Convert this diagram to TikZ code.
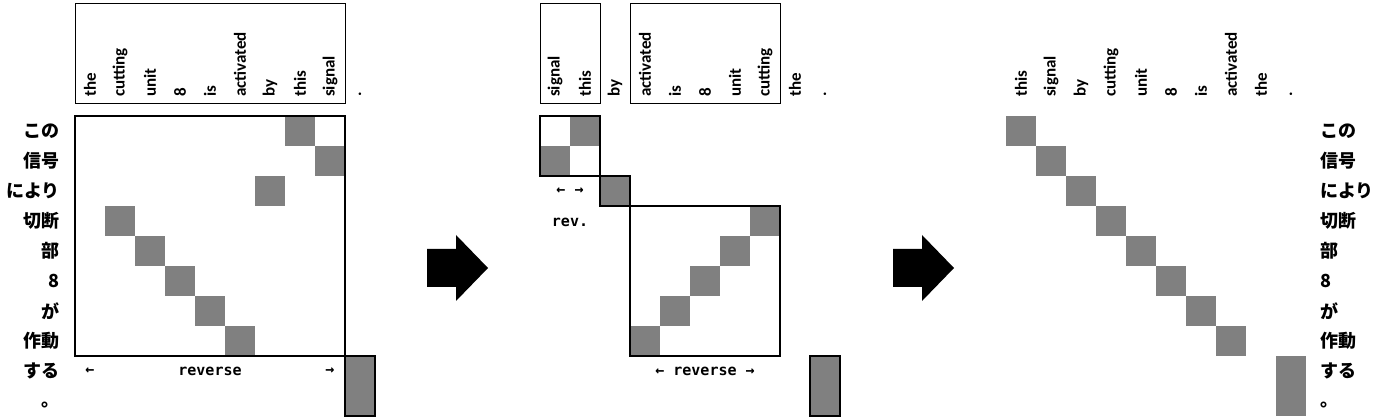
\documentclass[tikz,border=0pt]{standalone}
\usepackage{fontspec}
\setmainfont{Carlito}
\newfontfamily\jp{Noto Sans CJK JP}
\newfontfamily\mono{DejaVu Sans Mono}
\begin{document}
\begin{tikzpicture}[x=1pt,y=-1pt,
  cell/.style={fill=gray!95!black!55,draw=none},
  cellg/.style={fill={rgb,255:red,128;green,128;blue,128}},
  word/.style={rotate=90,anchor=west,font=\fontsize{17}{17}\selectfont\bfseries,inner sep=0pt},
  jl/.style={font=\jp\fontsize{18}{18}\selectfont\bfseries,inner sep=0pt},
  monot/.style={font=\mono\fontsize{15}{15}\selectfont\bfseries,inner sep=0pt},
  box/.style={draw,line width=1.8pt},
  thinbox/.style={draw,line width=0.9pt},
  blk/.style={fill=black}]
\useasboundingbox (0,0) rectangle (1381,419);
\definecolor{cg}{RGB}{128,128,128}
% ---------- helper
\newcommand{\gcell}[2]{\fill[cg] (#1,#2) rectangle ++(30,30);}
% ===== LEFT PANEL (x0=75)
\draw[thinbox] (75,3) rectangle (345,103);
\foreach \w [count=\i from 0] in {the,cutting,unit,8,is,activated,by,this,signal,.}
  \node[word] (lw\i) at (75+30*\i+15,97) {\w};
\foreach \j [count=\i from 0] in {この,信号,により,切断,部,8,が,作動,する}
  \node[jl,anchor=east] (lj\i) at (60,131+30*\i) {\j};
\node[jl,anchor=east] (lj9) at (60,405) {。};
\gcell{285}{116}\gcell{315}{146}\gcell{255}{176}\gcell{105}{206}
\gcell{135}{236}\gcell{165}{266}\gcell{195}{296}\gcell{225}{326}
\draw[box] (75,116) rectangle (345,356);
\draw[box,fill=cg] (345,356) rectangle (375,416);
\node[monot] (la) at (90,371) {←};
\node[monot] (lr) at (210,371) {reverse};
\node[monot] (lb) at (330,371) {→};
% ===== arrows
\fill[blk] (427,249) -- (456,249) -- (456,235) -- (488,268) -- (456,301) -- (456,287) -- (427,287) -- cycle;
\fill[blk] (893,249) -- (922,249) -- (922,235) -- (954,268) -- (922,301) -- (922,287) -- (893,287) -- cycle;
% ===== MIDDLE PANEL (x0=540)
\draw[thinbox] (540,3) rectangle (600,103);
\draw[thinbox] (630,3) rectangle (780,103);
\foreach \w [count=\i from 0] in {signal,this,by,activated,is,8,unit,cutting,the,.}
  \node[word] (mw\i) at (540+30*\i+15,97) {\w};
\gcell{570}{116}\gcell{540}{146}\gcell{600}{176}
\gcell{750}{206}\gcell{720}{236}\gcell{690}{266}\gcell{660}{296}\gcell{630}{326}
\draw[box] (540,116) rectangle (600,176);
\draw[box] (600,176) rectangle (630,206);
\draw[box] (630,206) rectangle (780,356);
\draw[box,fill=cg] (810,356) rectangle (840,416);
\node[monot] (ma) at (570,191) {← →};
\node[monot] (mr) at (570,222) {rev.};
\node[monot] (mb) at (705,371) {← reverse →};
% ===== RIGHT PANEL (x0=1006)
\foreach \w [count=\i from 0] in {this,signal,by,cutting,unit,8,is,activated,the,.}
  \node[word] (rw\i) at (1006+30*\i+15,97) {\w};
\foreach \i in {0,...,7} { \fill[cg] (1006+30*\i,116+30*\i) rectangle ++(30,30); }
\fill[cg] (1276,356) rectangle (1306,416);
\foreach \j [count=\i from 0] in {この,信号,により,切断,部,8,が,作動,する}
  \node[jl,anchor=west] (rj\i) at (1320,131+30*\i) {\j};
\node[jl,anchor=west] (rj9) at (1320,405) {。};
\end{tikzpicture}
\end{document}
